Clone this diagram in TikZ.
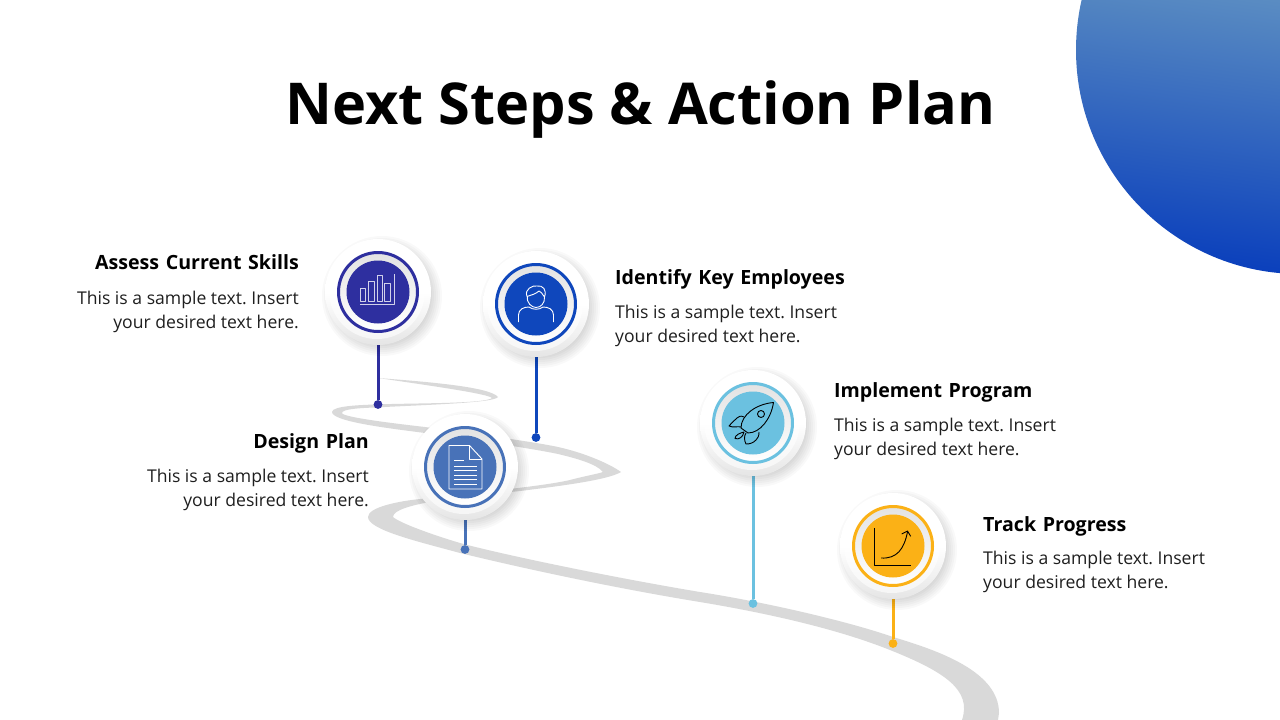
\documentclass[tikz,border=0pt]{standalone}
\usepackage{fontspec}
\setmainfont{Open Sans}
\newfontfamily\headfont{Open Sans}[WordSpace=1.3]
\usetikzlibrary{calc}
\definecolor{cA}{HTML}{2E2F9F}
\definecolor{cB}{HTML}{0F47BC}
\definecolor{cC}{HTML}{4872B8}
\definecolor{cD}{HTML}{6BC1E0}
\definecolor{cE}{HTML}{FBB116}
\definecolor{road}{HTML}{D9D9D9}
\definecolor{discT}{HTML}{8EBEC6}
\definecolor{discB}{HTML}{0B40BC}
\tikzset{
  head/.style={font=\headfont\fontsize{19.6}{24}\selectfont\bfseries,inner sep=0pt,text=black},
  body/.style={font=\frenchspacing\fontsize{17.6}{23.5}\selectfont,inner sep=0pt,text=black!88},
  stem/.style={line width=3pt},
  dotn/.style={circle,inner sep=0pt,minimum size=8.8pt},
  holder/.style={circle,inner sep=0pt,minimum size=106pt},
  iconw/.style={draw=white,line width=0.9pt,line join=round},
  iconk/.style={draw=black,line width=0.9pt,line join=round},
  pics/medal/.style={code={
    \foreach \r in {60,58,...,44}{\fill[black,opacity=0.022] (4,4) circle (\r pt);}
    \shade[shading angle=135,top color=white,bottom color=black!10,middle color=white] (0,0) circle (53pt);
    \fill[white,opacity=.6] (-1,-1) circle (48pt);
    \shade[shading angle=135,top color=black!11,bottom color=white] (0,0) circle (39pt);
    \draw[#1,line width=3pt] (0,0) circle (39.5pt);
    \fill[#1] (0,0) circle (31.5pt);
  }}
}
\begin{document}
\begin{tikzpicture}[x=1pt,y=-1pt]
\useasboundingbox (0,0) rectangle (1280,720);
\fill[white] (0,0) rectangle (1280,720);
% corner disc
\begin{scope}
\clip (0,0) rectangle (1280,720);
\shade[top color=discT,bottom color=discB,shading angle=-8] (1300,50) circle (224pt);
\end{scope}
% road
\fill[road]
  (378,378) .. controls (430,382) and (490,387) .. (498,397)
  .. controls (495,403) and (420,405) .. (375,407.5)
  .. controls (360,408) and (342,409) .. (342,413)
  .. controls (342,417) and (390,423) .. (425,427)
  .. controls (460,432) and (530,441) .. (558,447)
  .. controls (585,453) and (610,464) .. (621,472)
  .. controls (608,480) and (560,486) .. (520,491)
  .. controls (470,496) and (393,503) .. (393,517)
  .. controls (400,523) and (430,534) .. (460,543)
  .. controls (500,554) and (610,577) .. (700,592)
  .. controls (770,603) and (850,622) .. (893,637)
  .. controls (940,651) and (999,672) .. (999,713)
  -- (998,720) -- (962,720)
  .. controls (972,690) and (945,672) .. (890,650)
  .. controls (850,634) and (790,617) .. (700,602)
  .. controls (620,589) and (530,570) .. (460,553)
  .. controls (420,542) and (368,530) .. (368,517)
  .. controls (368,507) and (400,501) .. (420,499)
  .. controls (460,494) and (540,487) .. (570,480)
  .. controls (585,476) and (597,474) .. (603,472)
  .. controls (597,464) and (575,458) .. (558,454)
  .. controls (530,448) and (460,438) .. (425,433)
  .. controls (395,429) and (332,422) .. (332,412)
  .. controls (332,406) and (360,405) .. (375,404.5)
  .. controls (410,403) and (485,404) .. (492,398)
  .. controls (488,394) and (440,387) .. (378,378)
  -- cycle;
% title
\node[font=\fontsize{57.7}{70}\selectfont\bfseries,inner sep=0pt,anchor=base] (title) at (640.5,124) {Next Steps \& Action Plan};
% holders
\node[holder] (c1) at (378,292) {};
\node[holder] (c2) at (536,304) {};
\node[holder] (c3) at (465,467) {};
\node[holder] (c4) at (753,423) {};
\node[holder] (c5) at (893,546) {};
\node[dotn,fill=cA] (d1) at (378,404.5) {};
\node[dotn,fill=cB] (d2) at (536,437.5) {};
\node[dotn,fill=cC] (d3) at (465,549.5) {};
\node[dotn,fill=cD] (d4) at (753,603.5) {};
\node[dotn,fill=cE] (d5) at (893,643.5) {};
\draw[stem,cA] (c1.south) -- (d1);
\draw[stem,cB] (c2.south) -- (d2);
\draw[stem,cC] (c3.south) -- (d3);
\draw[stem,cD] (c4.south) -- (d4);
\draw[stem,cE] (c5.south) -- (d5);
\pic at (c1) {medal=cA};
\pic at (c2) {medal=cB};
\pic at (c3) {medal=cC};
\pic at (c4) {medal=cD};
\pic at (c5) {medal=cE};
% icon 1 bars
\begin{scope}[shift={(c1)}]
\draw[iconw,draw=white!78!cA] (-18,-4) rectangle (-13,9) (-10,-11) rectangle (-3.5,9) (-1,-17) rectangle (4,9) (6.5,-9) rectangle (12,9);
\draw[iconw,draw=white!78!cA] (-18,12.5) -- (16,12.5) -- (16,-18);
\end{scope}
% icon 2 person
\begin{scope}[shift={(c2)}]
\draw[iconw] (-8.5,-8) .. controls (-10,-1) and (-4,3.5) .. (0,3.5) .. controls (5,3.5) and (9,-1) .. (8.5,-7);
\draw[iconw] (-9,-7.5) .. controls (-12,-15) and (-3,-19) .. (1,-18) .. controls (7,-19) and (11,-14) .. (8.5,-7) .. controls (6,-10) and (5,-13) .. (3,-13) .. controls (0,-10) and (-5,-9) .. (-9,-7.5);
\draw[iconw] (-17.5,18) -- (-17.5,11) .. controls (-17.5,5) and (-12,3) .. (-7,3) .. controls (-3,6) and (3,6) .. (7,3) .. controls (12,3) and (17.5,5) .. (17.5,11) -- (17.5,18);
\end{scope}
% icon 3 document
\begin{scope}[shift={(c3)}]
\draw[iconw] (-16,-21.5) -- (4.5,-21.5) -- (17,-8) -- (17,22) -- (-16,22) -- cycle;
\draw[iconw] (4.5,-21.5) -- (4.5,-8) -- (17,-8);
\draw[iconw] (-11,-6.5) -- (-1,-6.5) (-11,-1) -- (11.5,-1) (-11,3.5) -- (11.5,3.5) (-11,8) -- (11.5,8) (-11,12.5) -- (11.5,12.5) (-11,17) -- (11.5,17);
\end{scope}
% icon 4 rocket
\begin{scope}[shift={(c4)}]
\draw[iconk] (-12,5) .. controls (-12,-8) and (3,-19) .. (20.5,-20.5) .. controls (18,-4) and (7,10) .. (-5,10) -- cycle;
\draw[iconk] (8,-9) circle (3.5pt);
\draw[iconk] (-9,-6) .. controls (-13,-8) and (-14,-6) .. (-16,-5) .. controls (-19,-2) and (-22,0) .. (-24,3) .. controls (-20,5) and (-15,3) .. (-12,4);
\draw[iconk] (6,9) .. controls (6,13) and (5,15) .. (3,17) .. controls (0,20) and (-3,21) .. (-7,21) .. controls (-9,17) and (-9,13) .. (-7,10);
\draw[iconk] (-9,9) .. controls (-13,10) and (-18,12) .. (-18,15.5) .. controls (-14,17) and (-10,14) .. (-9,9) -- cycle;
\end{scope}
% icon 5 chart
\begin{scope}[shift={(c5)}]
\draw[iconk] (-18.5,-18) -- (-18.5,19) -- (18,19);
\draw[iconk] (-12,12) .. controls (4,13) and (11,3) .. (14.5,-14);
\draw[iconk] (8.7,-12) -- (14.5,-15) -- (17.7,-9.7);
\end{scope}
% texts
\node[head,anchor=base east] (h1) at (299,269) {Assess Current Skills};
\node[body,anchor=base east,align=right] (b1) at (299,328) {This is a sample text. Insert\\your desired text here.};
\node[head,anchor=base west] (h2) at (615,284) {Identify Key Employees};
\node[body,anchor=base west,align=left] (b2) at (615,342) {This is a sample text. Insert\\your desired text here.};
\node[head,anchor=base east] (h3) at (369,448) {Design Plan};
\node[body,anchor=base east,align=right] (b3) at (369,506) {This is a sample text. Insert\\your desired text here.};
\node[head,anchor=base west] (h4) at (834,397) {Implement Program};
\node[body,anchor=base west,align=left] (b4) at (834,455) {This is a sample text. Insert\\your desired text here.};
\node[head,anchor=base west] (h5) at (983,531) {Track Progress};
\node[body,anchor=base west,align=left] (b5) at (983,588) {This is a sample text. Insert\\your desired text here.};
\end{tikzpicture}
\end{document}
